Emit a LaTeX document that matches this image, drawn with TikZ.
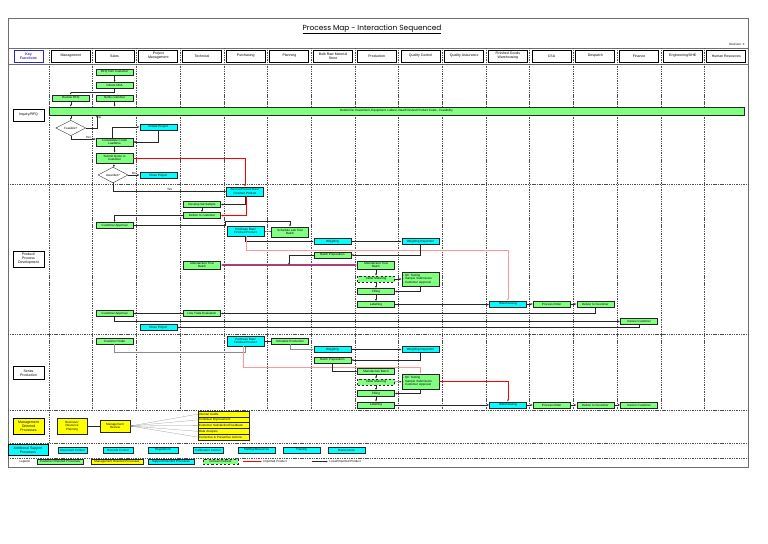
\documentclass[tikz,border=0pt]{standalone}
\usepackage{fontspec}
\setmainfont{Liberation Sans}
\newfontfamily\titlefam{Poppins}
\usetikzlibrary{arrows.meta, shapes.geometric}

\definecolor{custgreen}{RGB}{128,255,128}
\definecolor{suppcyan}{RGB}{0,255,255}
\definecolor{mgmtyellow}{RGB}{255,255,0}
\definecolor{framegrey}{RGB}{110,110,110}
\definecolor{keyblue}{RGB}{40,40,200}

\newcommand{\boxfont}{\fontsize{4.3}{4.7}\selectfont}
\newcommand{\hdrfont}{\fontsize{5}{5.6}\selectfont}
\newcommand{\titlefont}{\titlefam\fontsize{10.5}{12}\selectfont}

\tikzset{
	proc/.style={draw=black!85, line width=0.6pt, minimum width=18.5mm, minimum height=3mm, inner sep=0.2mm, align=center, font=\boxfont},
	custproc/.style={proc, fill=custgreen},
	suppproc/.style={proc, fill=suppcyan},
	mgmtproc/.style={proc, fill=mgmtyellow},
	critproc/.style={custproc, dashed},
	decision/.style={diamond, draw=black!85, line width=0.5pt, fill=white, minimum width=15mm, minimum height=6mm, inner sep=0pt, font=\boxfont},
	colhead/.style={draw, line width=1.2pt, fill=white, minimum width=19.5mm, minimum height=6mm, inner sep=0.2mm, align=center, font=\hdrfont},
	lanehead/.style={colhead, minimum width=15.5mm},
	flow/.style={draw=black!85, line width=0.6pt, -{Latex[length=1.1mm,width=0.9mm]}},
	link/.style={draw=black!85, line width=0.6pt},
	impflow/.style={flow, draw=red},
	impfaint/.style={flow, draw=red!40},
	greyflow/.style={flow, draw=black!45},
	fanin/.style={flow, draw=black!40, line width=0.4pt},
	lanesep/.style={draw=black!70, line width=0.6pt, dash pattern=on 1.5pt off 1pt},
	lbl/.style={font=\boxfont, inner sep=0.5pt}
}

\begin{document}
\begin{tikzpicture}[x=0.5mm, y=-0.5mm]

	\useasboundingbox (0,0) rectangle (768,543);

	% frame, lanes and columns
	\draw[framegrey, line width=1.4pt] (8,18) rectangle (748,467);
	\draw[framegrey, line width=0.8pt] (8,48) -- (748,48);
	\draw[framegrey, line width=0.6pt] (8,64) -- (748,64);
	\draw[lanesep] (8,184) -- (748,184);
	\draw[lanesep] (8,334) -- (748,334);
	\draw[lanesep] (8,410) -- (748,410);
	\draw[lanesep] (8,443) -- (748,443);
	\draw[lanesep] (8,458) -- (748,458);

	\draw[lanesep] (49,48) -- (49,443);
	\draw[lanesep] (92.7,48) -- (92.7,410);
	\draw[lanesep] (136.4,48) -- (136.4,410);
	\draw[lanesep] (180.1,48) -- (180.1,410);
	\draw[lanesep] (223.8,48) -- (223.8,410);
	\draw[lanesep] (267.5,48) -- (267.5,410);
	\draw[lanesep] (311.2,48) -- (311.2,410);
	\draw[lanesep] (354.9,48) -- (354.9,410);
	\draw[lanesep] (398.6,48) -- (398.6,410);
	\draw[lanesep] (442.3,48) -- (442.3,410);
	\draw[lanesep] (486,48) -- (486,410);
	\draw[lanesep] (529.7,48) -- (529.7,410);
	\draw[lanesep] (573.4,48) -- (573.4,410);
	\draw[lanesep] (617.1,48) -- (617.1,410);
	\draw[lanesep] (660.8,48) -- (660.8,410);
	\draw[lanesep] (704.5,48) -- (704.5,410);

	\node[font=\titlefont] (title) at (372,29) {\underline{Process Map - Interaction Sequenced}};
	\node[lbl, anchor=east] (rev) at (745,44) {Revision: 4};

	% key functions
	\node[colhead, draw=keyblue, line width=0.8pt, minimum width=14.5mm, text=keyblue, font=\hdrfont\bfseries] (hkey) at (28.5,56) {Key\\Functions};
	\node[colhead] (hmgmt) at (70.8,56) {Management};
	\node[colhead] (hsales) at (114.6,56) {Sales};
	\node[colhead] (hpm) at (158.3,56) {Project\\Management};
	\node[colhead] (htech) at (202,56) {Technical};
	\node[colhead] (hpurch) at (245.7,56) {Purchasing};
	\node[colhead] (hplan) at (289.4,56) {Planning};
	\node[colhead] (hbulk) at (333.1,56) {Bulk Raw Material\\Store};
	\node[colhead] (hprod) at (376.8,56) {Production};
	\node[colhead] (hqc) at (420.5,56) {Quality Control};
	\node[colhead] (hqa) at (464.2,56) {Quality Assurance};
	\node[colhead] (hfgw) at (507.9,56) {Finished Goods\\Warehousing};
	\node[colhead] (hcsu) at (551.6,56) {CSU};
	\node[colhead] (hdesp) at (595.3,56) {Despatch};
	\node[colhead] (hfin) at (639,56) {Finance};
	\node[colhead] (heng) at (682.7,56) {Engineering/SHE};
	\node[colhead] (hhr) at (726.4,56) {Human Resources};

	\node[lanehead] (linq) at (28.5,115) {Inquiry/RFQ};
	\node[lanehead, minimum height=8mm] (ldev) at (28.5,259) {Product/\\Process\\Development};
	\node[lanehead, minimum height=6.5mm] (lser) at (28.5,373) {Series\\Production};
	\node[lanehead, fill=mgmtyellow, minimum height=8mm] (lmgmt) at (28.5,426) {Management\\Oriented\\Processes};
	\node[lanehead, fill=suppcyan, line width=0.8pt, minimum width=20mm, minimum height=5.5mm] (lsupp) at (28,450) {Additional Support\\Processes};

	% inquiry / rfq
	\node[custproc] (rfq) at (114.6,72) {RFQ from Customer};
	\node[custproc] (nda) at (114.6,85.5) {Initiate NDA};
	\node[custproc] (notify) at (114.6,98) {Notify customer};
	\node[custproc] (review) at (70.8,98) {Review RFQ};
	\node[custproc, minimum width=347.5mm, minimum height=4mm] (feasbar) at (396.5,111) {Determine Investment, Equipment, Labour, Raw/Finished Product Costs - Feasibility};
	\node[decision] (feas) at (70.8,128) {Feasible?};
	\node[custproc, minimum height=4mm] (cons) at (114.6,142) {Consolidate Costs/\\Leadtime};
	\node[suppproc] (initp) at (158.3,127) {Initiate Project};
	\node[custproc, minimum height=5mm] (quote) at (114.6,158) {Submit Quote to\\Customer};
	\node[decision, minimum height=5mm] (award) at (113,175) {Awarded?};
	\node[suppproc] (closep1) at (158.3,175.5) {Close Project};

	\coordinate (feasno) at (97,115);
	\draw[flow] (rfq) -- (nda);
	\draw[flow] (nda.south) -- ++(0,3.5) -| (review.north);
	\draw[flow] (notify) -- (notify |- feasbar.north);
	\draw[flow] (review) -- (review |- feasbar.north);
	\draw[flow] (feasbar.south -| feas) -- (feas.north);
	\draw[flow] (feas.east) -| (feasno) node[lbl, pos=0.9, right] {No};
	\draw[flow] (feas.south) |- ([yshift=1.5mm]cons.west) node[lbl, pos=0.85, above] {Yes};
	\draw[flow] ([xshift=-1mm]cons.north) |- (initp.west);
	\draw[flow] (initp.south) |- (cons.east);
	\draw[flow] (cons) -- (quote);
	\draw[flow] (quote) -- (award);
	\draw[flow] (award.east) -- (award.east -| closep1.west) node[lbl, midway, above] {No};

	% product / process development
	\node[suppproc, minimum height=4.5mm] (source) at (245,191.5) {Source/Procure Raw/\\Finished Product};
	\node[custproc] (labsample) at (202,204.5) {Develop lab Sample};
	\node[custproc] (deliv1) at (202,215.5) {Deliver to customer};
	\node[custproc] (custapp1) at (114.6,225.5) {Customer Approval};
	\node[suppproc, minimum height=5mm] (purch1) at (245.5,231) {Purchase Raw/\\Finished Product};
	\node[custproc, minimum height=5mm] (schedlab) at (290,232) {Schedule Lab Trial\\Batch};
	\node[suppproc] (weigh1) at (332.5,241.5) {Weighing};
	\node[suppproc] (weighinsp1) at (420.5,241.5) {Weighing Inspection};
	\node[custproc] (batch1) at (332.5,255) {Batch Preparation};
	\node[custproc, minimum height=4mm] (techbatch) at (202,265) {Manufacture Trial\\Batch};
	\node[custproc, minimum height=4mm] (prodbatch) at (376,265) {Manufacture Trial\\Batch};
	\node[critproc] (mature1) at (376,279) {Cellar Maturing};
	\node[custproc, minimum height=7mm, text width=17.5mm, align=left] (qc1) at (420.5,279) {- QC Testing\\- Sample Submission\\- Customer Approval};
	\node[custproc] (fill1) at (376,291.5) {Filling};
	\node[custproc] (label1) at (376,304.5) {Labelling};
	\node[suppproc] (ware1) at (507.9,304) {Warehousing};
	\node[custproc] (order1) at (551.6,304) {Process Order};
	\node[custproc] (deliv2) at (595.3,304) {Deliver to Customer};
	\node[custproc] (linetrial) at (202,313.5) {Line Trials Evaluation};
	\node[custproc] (custapp2) at (114.6,313.5) {Customer Approval};
	\node[custproc] (invoice1) at (639,321.5) {Invoice Customer};
	\node[suppproc] (closep2) at (158.3,327.5) {Close Project};

	\coordinate (mj) at (289,265);
	\draw[impflow] (quote.east) -| (source.north);
	\draw[flow] (award.south) |- (source.west) node[lbl, pos=0.75, above] {Yes};
	\draw[flow] (source.south) |- (labsample.east);
	\draw[impflow] ([xshift=0.6mm]source.south) |- (deliv1.east);
	\draw[flow] (labsample) -- (deliv1);
	\draw[flow] (deliv1.west) -| (custapp1.north);
	\draw[flow] (custapp1.east) -- (225,225.5) |- (schedlab.north |- 0,221) -- (schedlab.north);
	\draw[link] (purch1) -- (schedlab);
	\draw[flow] (purch1.south) |- (weigh1.west);
	\draw[impfaint] ([xshift=0.6mm]purch1.south) -- ++(0,14) -| (ware1.north);
	\draw[flow] (weigh1) -- (weighinsp1);
	\draw[flow] (weighinsp1.south) |- (batch1.east);
	\draw[magenta!65!black, line width=1.6pt, <->, >={Latex[length=1.3mm,width=1.1mm]}] (techbatch) -- (prodbatch);
	\draw[flow] (batch1.west) -| (mj);
	\draw[flow] (prodbatch) -- (mature1);
	\draw[flow] (mature1) -- (qc1);
	\draw[flow] (mature1) -- (fill1);
	\draw[flow] (qc1.south) |- (fill1.east);
	\draw[flow] (fill1) -- (label1);
	\draw[flow] (label1.east) -- (label1.east -| ware1.west);
	\draw[flow] (ware1) -- (order1);
	\draw[flow] (order1) -- (deliv2);
	\draw[flow] (deliv2.south) |- (linetrial.east);
	\draw[flow] (linetrial) -- (custapp2);
	\draw[flow] (custapp2.south) |- (invoice1.west);
	\draw[flow] (invoice1.south) |- (closep2.east);

	% series production
	\node[custproc] (custorder) at (114.6,341) {Customer Order};
	\node[suppproc, minimum height=5mm] (purch2) at (245.5,341) {Purchase Raw/\\Finished Product};
	\node[custproc] (schedprod) at (290,341) {Schedule Production};
	\node[suppproc] (weigh2) at (332.5,349.5) {Weighing};
	\node[suppproc] (weighinsp2) at (420.5,349.5) {Weighing Inspection};
	\node[custproc] (batch2) at (332.5,360) {Batch Preparation};
	\node[custproc] (manbatch) at (376,371.5) {Manufacture Batch};
	\node[critproc] (mature2) at (376,382) {Cellar Maturing};
	\node[custproc, minimum height=7.5mm, text width=17.5mm, align=left] (qc2) at (420.5,381.5) {- QC Testing\\- Sample Submission\\- Customer Approval};
	\node[custproc] (fill2) at (376,393.5) {Filling};
	\node[custproc] (label2) at (376,405) {Labelling};
	\node[suppproc] (ware2) at (507.9,405) {Warehousing};
	\node[custproc] (order2) at (551.6,405) {Process Order};
	\node[custproc] (deliv3) at (595.3,405) {Deliver to Customer};
	\node[custproc] (invoice2) at (639,405) {Invoice Customer};

	\draw[greyflow] (custorder.south) -- ++(0,8) -| (purch2.south);
	\draw[link] (purch2) -- (schedprod);
	\draw[greyflow] (schedprod.south) |- (weigh2.west);
	\draw[impfaint] ([xshift=-1mm]purch2.south) -- ++(0,21) -| (qc2.north);
	\draw[flow] (weigh2) -- (weighinsp2);
	\draw[flow] (weighinsp2.south) |- (batch2.east);
	\draw[flow] (batch2.south) |- (manbatch.west);
	\draw[flow] (manbatch) -- (mature2);
	\draw[flow] (mature2) -- (qc2);
	\draw[flow] (mature2) -- (fill2);
	\draw[flow] (qc2.south) |- (fill2.east);
	\draw[flow] (fill2) -- (label2);
	\draw[flow] (label2) -- (ware2);
	\draw[impflow] (qc2.east) -| (ware2.north);
	\draw[flow] (ware2) -- (order2);
	\draw[flow] (order2) -- (deliv3);
	\draw[flow] (deliv3) -- (invoice2);

	% management oriented processes
	\node[mgmtproc, line width=1pt, minimum width=15mm, minimum height=8mm] (bizplan) at (72,426) {Business/\\Resource\\Planning};
	\node[mgmtproc, line width=1pt, minimum width=15mm, minimum height=6mm] (mreview) at (115,426) {Management\\Review};
	\node[mgmtproc, text width=25mm, align=left, minimum height=2.9mm] (audit) at (224,414) {Internal Audits};
	\node[mgmtproc, text width=25mm, align=left, minimum height=2.9mm] (improve) at (224,419.8) {Continual Improvement};
	\node[mgmtproc, text width=25mm, align=left, minimum height=2.9mm] (satisf) at (224,425.6) {Customer Satisfaction/Feedback};
	\node[mgmtproc, text width=25mm, align=left, minimum height=2.9mm] (analysis) at (224,431.4) {Data Analysis};
	\node[mgmtproc, text width=25mm, align=left, minimum height=2.9mm] (capa) at (224,437.2) {Corrective \& Preventive Actions};

	\draw[link, line width=1pt] (bizplan) -- (mreview);
	\draw[fanin] (audit.west) -- (mreview.east);
	\draw[fanin] (improve.west) -- (mreview.east);
	\draw[fanin] (satisf.west) -- (mreview.east);
	\draw[fanin] (analysis.west) -- (mreview.east);
	\draw[fanin] (capa.west) -- (mreview.east);

	% additional support processes
	\node[suppproc, minimum width=14.5mm] (doccon) at (72.5,450) {Document Control};
	\node[suppproc, minimum width=15mm] (reccon) at (118,450) {Records Control};
	\node[suppproc, minimum width=15mm] (regs) at (163,450) {Regulations};
	\node[suppproc, minimum width=15mm] (calcon) at (208,450) {Calibration Control};
	\node[suppproc] (staff) at (256.5,450) {Staffing/Resources};
	\node[suppproc] (train) at (301.5,450) {Training};
	\node[suppproc] (maint) at (346.5,450) {Maintenance};

	% legend
	\node[lbl] (legend) at (25,461.5) {Legend:};
	\node[custproc, minimum width=23mm, minimum height=2.6mm] (lgcust) at (60,461.5) {Customer Oriented Processes};
	\node[mgmtproc, minimum width=26mm, minimum height=2.6mm] (lgmgmt) at (117,461.5) {Management Oriented Processes};
	\node[suppproc, minimum width=23mm, minimum height=2.6mm] (lgsupp) at (171,461.5) {Support Oriented Processes};
	\node[critproc, minimum width=17.5mm, minimum height=2.6mm] (lgcrit) at (220.5,461.5) {Critical Products};
	\coordinate (lgimpa) at (243,461.5);
	\coordinate (lgimpb) at (262,461.5);
	\node[lbl, anchor=west] (lgimp) at (263,461.5) {Imported Product};
	\coordinate (lgloca) at (312,461.5);
	\coordinate (lglocb) at (328,461.5);
	\node[lbl, anchor=west] (lgloc) at (329,461.5) {Local/Imported Product};
	\draw[impflow] (lgimpa) -- (lgimpb);
	\draw[flow, line width=1pt] (lgloca) -- (lglocb);

\end{tikzpicture}
\end{document}
